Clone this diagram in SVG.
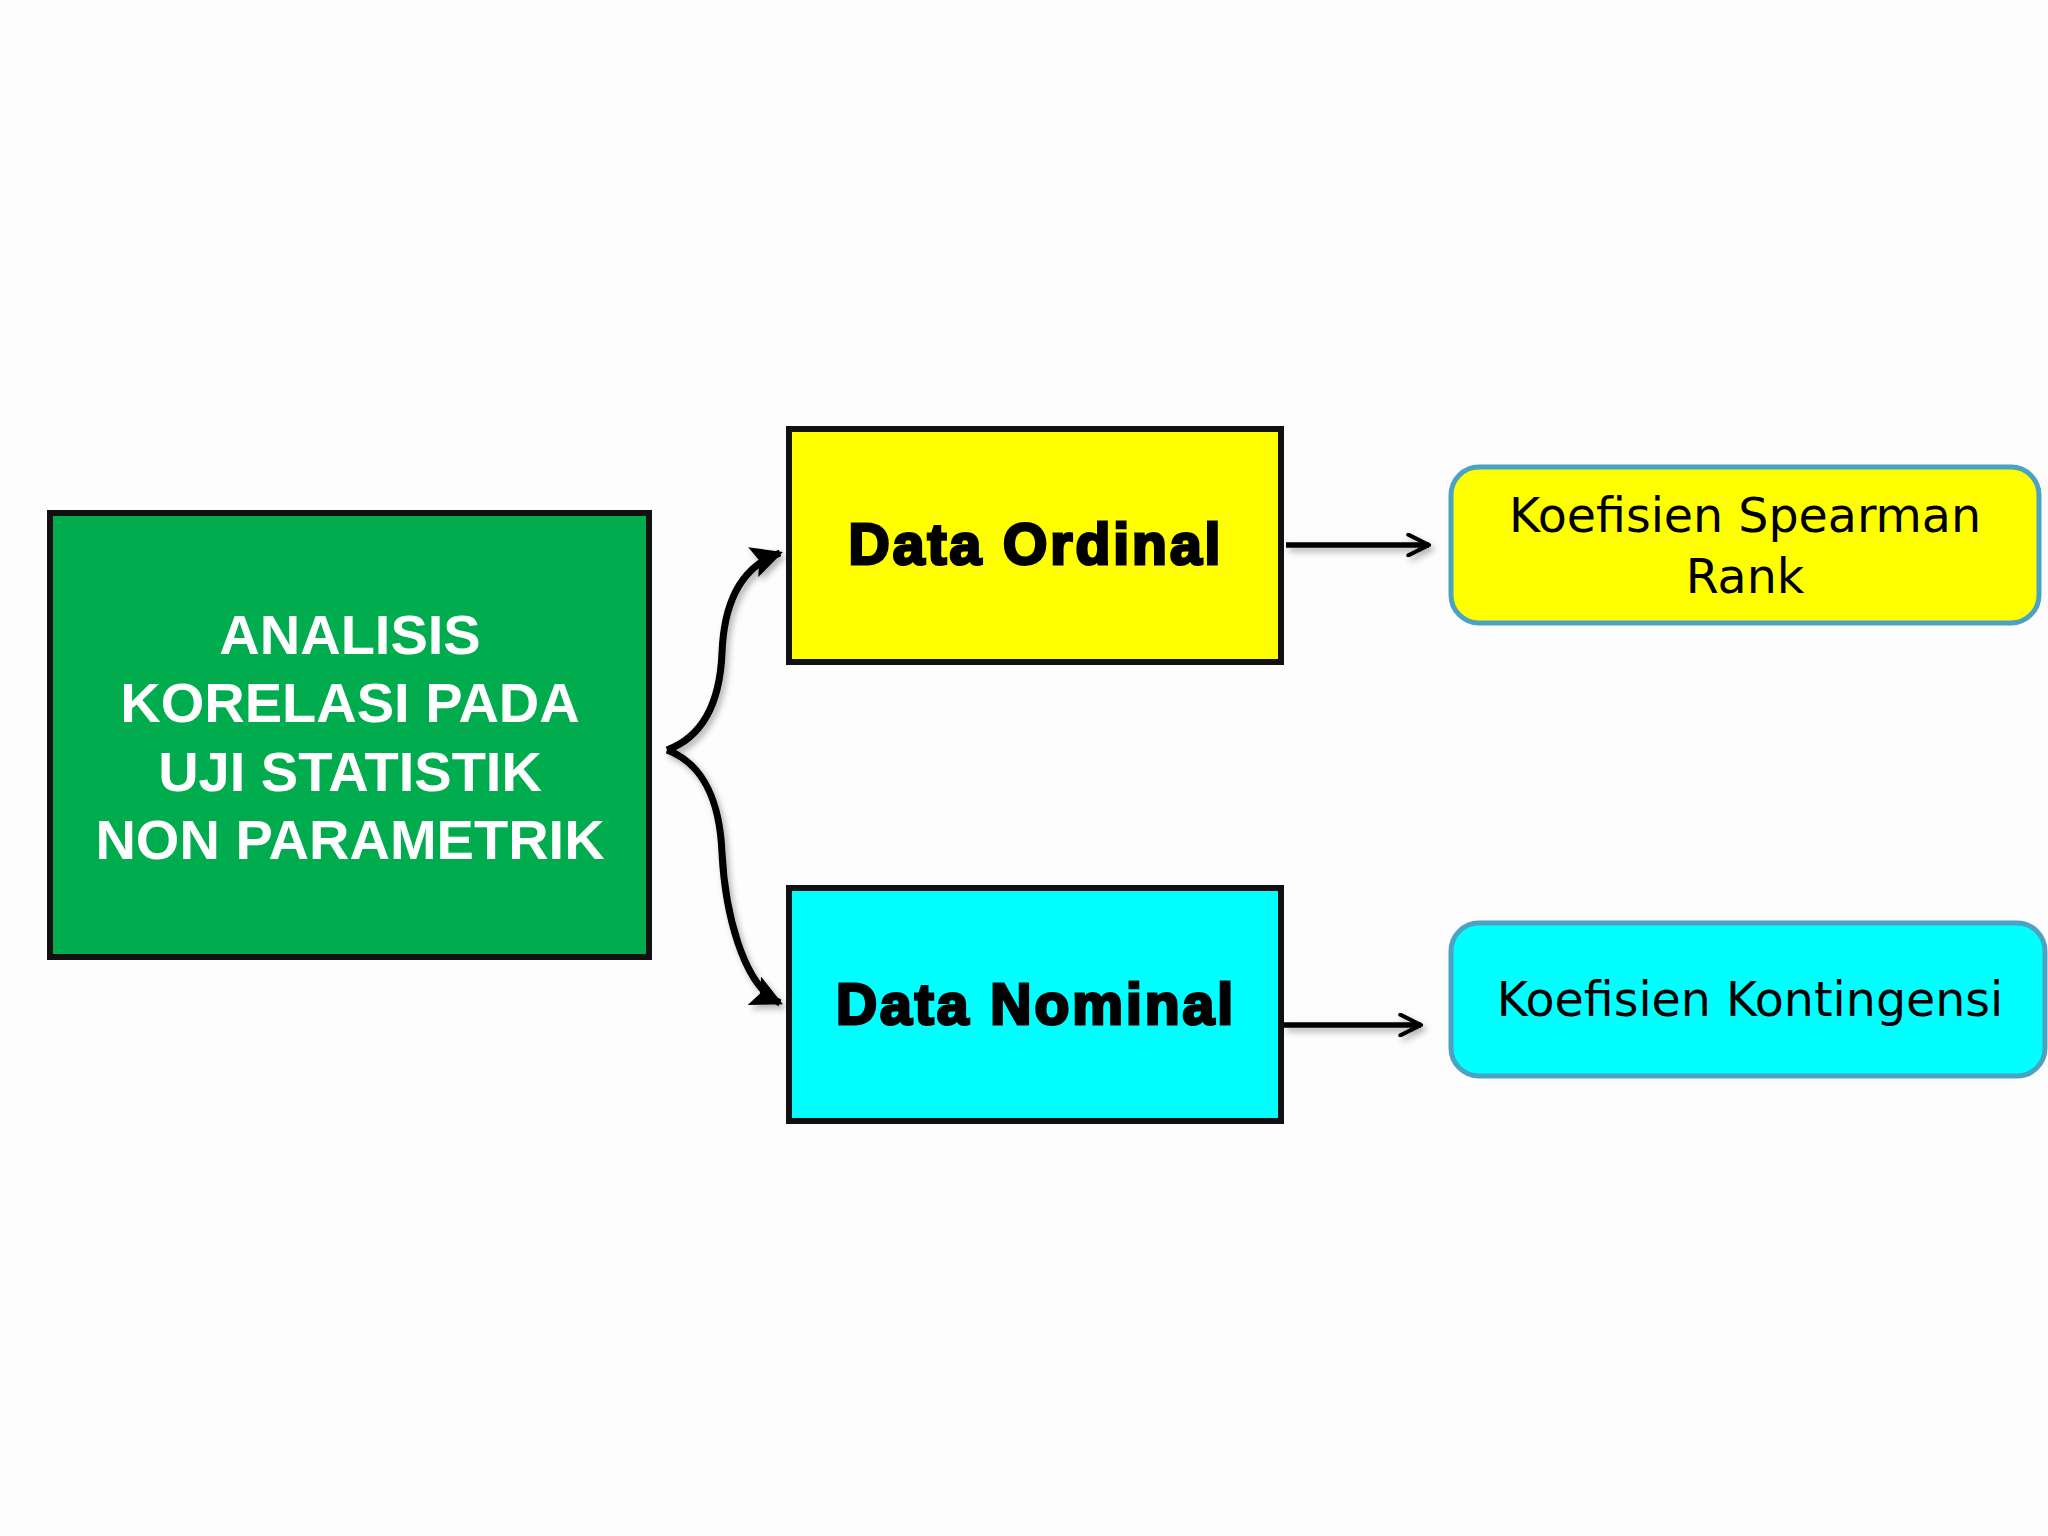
<svg xmlns="http://www.w3.org/2000/svg" width="2048" height="1536" viewBox="0 0 2048 1536">
  <defs>
    <style>
      .box { stroke: #111; stroke-width: 6; }
      .rbox { stroke: #4ba3c3; stroke-width: 5; }
      .title { font-family: "Liberation Sans", Arial, sans-serif; font-weight: bold; font-size: 56px; fill: #fff; text-anchor: middle; }
      .mid { font-family: "Liberation Sans", Arial, sans-serif; font-weight: bold; font-size: 57px; letter-spacing: 3px; fill: #000; stroke: #000; stroke-width: 3; text-anchor: middle; }
      .res { font-family: "DejaVu Sans", "Open Sans", sans-serif; font-size: 47.5px; fill: #000; text-anchor: middle; }
      .curve { fill: none; stroke: #000; stroke-width: 7; }
      .line { fill: none; stroke: #000; stroke-width: 5.5; }
    </style>
    <marker id="tri" viewBox="0 0 10 10" refX="9" refY="5" markerWidth="4.5" markerHeight="4.5" orient="auto" markerUnits="strokeWidth">
      <path d="M0,0 L10,5 L0,10 L2,5 Z" fill="#000"/>
    </marker>
    <marker id="chev" viewBox="0 0 12 12" refX="11" refY="6" markerWidth="4.5" markerHeight="4.5" orient="auto" markerUnits="strokeWidth">
      <path d="M1,1 L11,6 L1,11" fill="none" stroke="#000" stroke-width="2" stroke-linecap="round" stroke-linejoin="round"/>
    </marker>
    <filter id="sh" x="-20%" y="-20%" width="140%" height="140%">
      <feDropShadow dx="3" dy="4" stdDeviation="3" flood-color="#000" flood-opacity="0.3"/>
    </filter>
  </defs>
  <rect x="0" y="0" width="2048" height="1536" fill="#fdfdfd"/>

  <g id="node-analisis">
    <rect class="box" x="50" y="513" width="599" height="444" fill="#00ac4e"/>
    <text class="title" x="350" y="654">ANALISIS</text>
    <text class="title" x="350" y="722">KORELASI PADA</text>
    <text class="title" x="350" y="791">UJI STATISTIK</text>
    <text class="title" x="350" y="859">NON PARAMETRIK</text>
  </g>

  <g id="node-ordinal">
    <rect class="box" x="789" y="429" width="492" height="233" fill="#ffff00"/>
    <text class="mid" x="1036" y="564">Data Ordinal</text>
  </g>

  <g id="node-nominal">
    <rect class="box" x="789" y="888" width="492" height="233" fill="#00ffff"/>
    <text class="mid" x="1036" y="1024">Data Nominal</text>
  </g>

  <g id="node-spearman">
    <rect class="rbox" x="1451" y="467" width="588" height="156" rx="28" ry="28" fill="#ffff00"/>
    <text class="res" x="1745" y="532">Koefisien Spearman</text>
    <text class="res" x="1745" y="593">Rank</text>
  </g>

  <g id="node-kontingensi">
    <rect class="rbox" x="1451" y="923" width="594" height="153" rx="28" ry="28" fill="#00ffff"/>
    <text class="res" x="1750" y="1016">Koefisien Kontingensi</text>
  </g>

  <g id="connectors" filter="url(#sh)">
    <path class="curve" d="M667,750 C705,736 720,700 722,653 C724,600 742,566 780,553" marker-end="url(#tri)"/>
    <path class="curve" d="M667,750 C705,764 720,805 722,853 C725,910 742,985 780,1003" marker-end="url(#tri)"/>
    <path class="line" d="M1286,545 L1429,545" marker-end="url(#chev)"/>
    <path class="line" d="M1284,1025 L1421,1025" marker-end="url(#chev)"/>
  </g>
</svg>
